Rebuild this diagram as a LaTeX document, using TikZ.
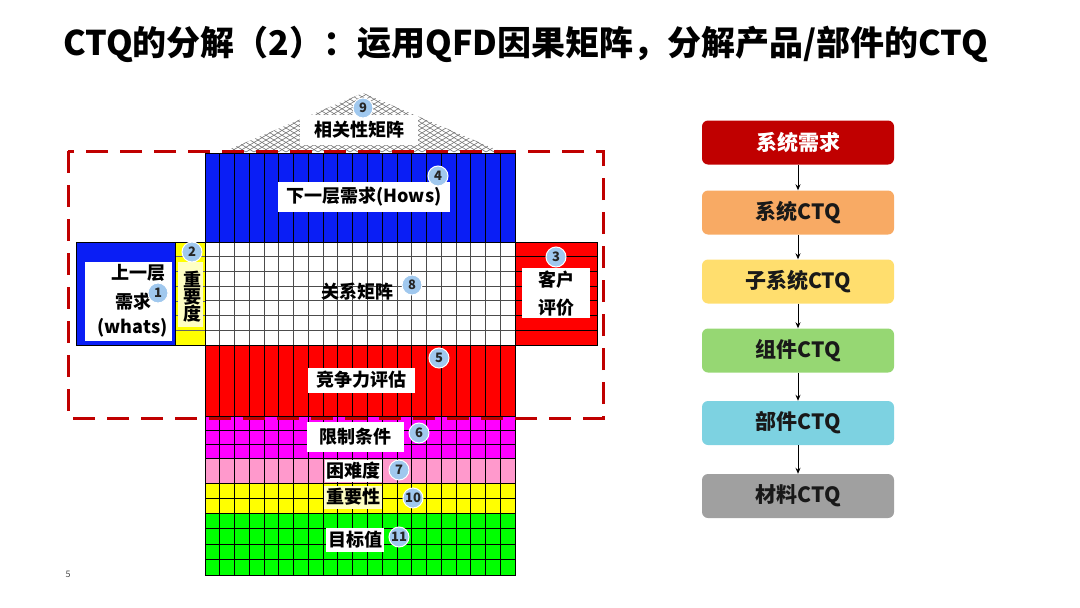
\documentclass[tikz,border=0pt]{standalone}
\usepackage{fontspec}
\setmainfont{Noto Sans CJK SC}
\usetikzlibrary{arrows.meta}
\definecolor{hblue}{RGB}{10,30,245}
\definecolor{hred}{RGB}{255,0,0}
\definecolor{hyel}{RGB}{255,255,0}
\definecolor{hpale}{RGB}{255,255,195}
\definecolor{hmag}{RGB}{255,0,255}
\definecolor{hpink}{RGB}{255,153,204}
\definecolor{hgreen}{RGB}{0,255,0}
\definecolor{dashred}{RGB}{192,0,0}
\definecolor{numblue}{RGB}{160,200,238}
\definecolor{fred}{RGB}{192,0,0}
\definecolor{forange}{RGB}{248,170,100}
\definecolor{fyellow}{RGB}{255,222,110}
\definecolor{fgreen}{RGB}{150,215,115}
\definecolor{fcyan}{RGB}{125,210,225}
\definecolor{fgray}{RGB}{160,160,160}
\newcommand\fsz[1]{\fontsize{#1}{#1}\selectfont}
\begin{document}
\begin{tikzpicture}[x=1pt,y=-1pt,
  gridline/.style={black, line width=0.8pt},
  lightgrid/.style={black!70, line width=0.8pt},
  lbl/.style={fill=white, font=\fsz{18}\bfseries, inner sep=0pt, text=black},
  num/.style={circle, fill=numblue, draw=white, line width=1pt, minimum size=20pt, inner sep=0pt, font=\fsz{13}\bfseries, text=black!85},
  flow/.style={rounded corners=6pt, minimum width=192pt, minimum height=44pt, inner sep=0pt, font=\fsz{21}\bfseries, text=black!90},
  flowarrow/.style={-{Stealth[length=6pt,width=5pt]}, line width=1pt, black}]
\useasboundingbox (0,0) rectangle (1080,608);

% title
\node[anchor=west, inner sep=0pt, font=\fsz{34}\bfseries] (title) at (63,44) {CTQ的分解（2）：运用QFD因果矩阵，分解产品/部件的CTQ};

% roof
\begin{scope}
  \clip (223,152) -- (363,93) -- (502,152) -- cycle;
  \fill[white] (223,152) -- (363,93) -- (502,152) -- cycle;
  \foreach \k in {0,...,80} {
    \draw[black!55, line width=0.6pt] ({110+\k*8},152) -- ++(120,-72);
    \draw[black!55, line width=0.6pt] ({110+\k*8},152) -- ++(-120,-72);
  }
\end{scope}

% blue block (hows)
\fill[hblue] (205,153) rectangle (515,242);
\foreach \i in {1,...,20} \draw[gridline] ({205+\i*310/21},153) -- ++(0,89);
\draw[gridline] (205,153) rectangle (515,242);

% relation matrix
\fill[white] (205,242) rectangle (515,345);
\foreach \i in {1,...,20} \draw[lightgrid] ({205+\i*310/21},242) -- ++(0,103);
\foreach \j in {1,...,6} \draw[lightgrid] (205,{242+\j*103/7}) -- ++(310,0);
\draw[gridline] (205,242) rectangle (515,345);

% competitive assessment
\fill[hred] (205,345) rectangle (515,416);
\foreach \i in {1,...,20} \draw[gridline] ({205+\i*310/21},345) -- ++(0,71);
\draw[gridline] (205,345) rectangle (515,416);

% constraints (magenta)
\fill[hmag] (205,416) rectangle (515,458);
\foreach \i in {1,...,20} \draw[gridline] ({205+\i*310/21},416) -- ++(0,42);
\foreach \y in {430,444} \draw[gridline] (205,\y) -- ++(310,0);
\draw[gridline] (205,416) rectangle (515,458);

% difficulty (pink)
\fill[hpink] (205,458) rectangle (515,483);
\foreach \i in {1,...,20} \draw[gridline] ({205+\i*310/21},458) -- ++(0,25);
\draw[gridline] (205,458) rectangle (515,483);

% importance (yellow)
\fill[hyel] (205,483) rectangle (515,513);
\foreach \i in {1,...,20} \draw[gridline] ({205+\i*310/21},483) -- ++(0,30);
\draw[gridline] (205,498) -- ++(310,0);
\draw[gridline] (205,483) rectangle (515,513);

% target (green)
\fill[hgreen] (205,513) rectangle (515,575);
\foreach \i in {1,...,20} \draw[gridline] ({205+\i*310/21},513) -- ++(0,62);
\foreach \j in {1,...,3} \draw[gridline] (205,{513+\j*62/4}) -- ++(310,0);
\draw[gridline] (205,513) rectangle (515,575);

% left whats block
\fill[hblue] (76,242) rectangle (175,345);
\fill[white] (85,262) rectangle (172,341);
\draw[gridline] (76,242) rectangle (175,345);

% importance column
\fill[hyel] (175,242) rectangle (205,345);
\foreach \j in {1,...,6} \draw[black!60, line width=0.6pt] (175,{242+\j*103/7}) -- ++(30,0);
\fill[hpale] (178,262) rectangle (203,327);
\draw[gridline] (175,242) rectangle (205,345);

% customer evaluation block
\fill[hred] (515,242) rectangle (597,345);
\foreach \j in {1,...,6} \draw[gridline] (515,{242+\j*103/7}) -- ++(82,0);
\draw[gridline] (515,242) rectangle (597,345);

% dashed frame
\draw[dashred, line width=3pt, dash pattern=on 22pt off 12pt] (68,151) rectangle (603,418);

% labels
\node[lbl, minimum width=118pt, minimum height=30pt] (roofl) at (359,130) {相关性矩阵};
\node[lbl, minimum width=172pt, minimum height=30pt] (hows) at (364,197) {下一层需求(Hows)};
\node[font=\fsz{18}\bfseries, inner sep=0pt] (rel) at (357,292) {关系矩阵};
\node[lbl, minimum width=107pt, minimum height=25pt] (comp) at (361,380) {竞争力评估};
\node[lbl, minimum width=97pt, minimum height=30pt] (cons) at (355.5,437) {限制条件};
\node[lbl, minimum width=57pt, minimum height=22pt] (diff) at (353.5,471) {困难度};
\node[lbl, fill=hpale, minimum width=58pt, minimum height=23pt] (imp) at (353,497) {重要性};
\node[lbl, minimum width=58pt, minimum height=24pt] (targ) at (355,540) {目标值};

\node[font=\fsz{18}\bfseries, inner sep=0pt] (w1) at (138.5,273) {上一层};
\node[font=\fsz{18}\bfseries, inner sep=0pt] (w2) at (133,302) {需求};
\node[font=\fsz{18}\bfseries, inner sep=0pt] (w3) at (132.5,328) {(whats)};
\node[font=\fsz{18}\bfseries, inner sep=0pt, align=center] (impc) at (192,297) {重\\[-1pt]要\\[-1pt]度};

\node[lbl, minimum width=68pt, minimum height=50pt] (custbox) at (556,293) {};
\node[font=\fsz{18}\bfseries, inner sep=0pt] (c1) at (556,280) {客户};
\node[font=\fsz{18}\bfseries, inner sep=0pt] (c2) at (556,308) {评价};

% number circles
\node[num] (n1) at (158,293) {1};
\node[num] (n2) at (192,252) {2};
\node[num] (n3) at (556,257) {3};
\node[num] (n4) at (438,176) {4};
\node[num] (n5) at (439,358) {5};
\node[num] (n6) at (419,433) {6};
\node[num] (n7) at (399,470) {7};
\node[num] (n8) at (412,285) {8};
\node[num] (n9) at (363,108) {9};
\node[num] (n10) at (413,498) {10};
\node[num] (n11) at (399,537) {11};

% flow chart
\node[flow, fill=fred, text=white] (f1) at (798,142.5) {系统需求};
\node[flow, fill=forange] (f2) at (798,212.5) {系统CTQ};
\node[flow, fill=fyellow] (f3) at (798,281.5) {子系统CTQ};
\node[flow, fill=fgreen] (f4) at (798,350.5) {组件CTQ};
\node[flow, fill=fcyan] (f5) at (798,423) {部件CTQ};
\node[flow, fill=fgray] (f6) at (798,496) {材料CTQ};
\draw[flowarrow] (f1) -- (f2);
\draw[flowarrow] (f2) -- (f3);
\draw[flowarrow] (f3) -- (f4);
\draw[flowarrow] (f4) -- (f5);
\draw[flowarrow] (f5) -- (f6);

% page number
\node[font=\fsz{9}, text=black!70, inner sep=0pt] (pg) at (68,574) {5};
\end{tikzpicture}
\end{document}
